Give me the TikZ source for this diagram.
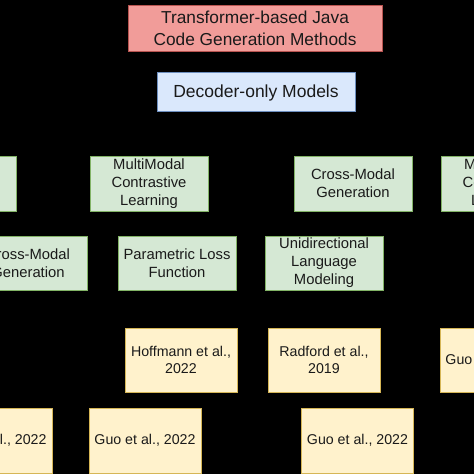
\documentclass[tikz,border=0pt]{standalone}
\usepackage{fontspec}
\setmainfont{Liberation Sans}
\definecolor{titlefill}{HTML}{F19C99}
\definecolor{titledraw}{HTML}{B85450}
\definecolor{bluefill}{HTML}{DAE8FC}
\definecolor{bluedraw}{HTML}{6C8EBF}
\definecolor{greenfill}{HTML}{D5E8D4}
\definecolor{greendraw}{HTML}{82B366}
\definecolor{yellowfill}{HTML}{FFF2CC}
\definecolor{yellowdraw}{HTML}{D6B656}
\definecolor{txt}{HTML}{1A1A1A}
\tikzset{
  box/.style={rectangle, inner sep=0pt, align=center, text=txt, line width=0.4pt},
  titlebox/.style={box, fill=titlefill, draw=titledraw, minimum width=254pt, minimum height=46pt,
    font=\fontsize{17.3}{22}\selectfont},
  decbox/.style={box, fill=bluefill, draw=bluedraw, minimum width=198pt, minimum height=39pt,
    font=\fontsize{17.5}{22}\selectfont, text depth=3pt},
  methbox/.style={box, fill=greenfill, draw=greendraw, minimum width=118pt,
    font=\fontsize{14.8}{18}\selectfont},
  refbox/.style={box, fill=yellowfill, draw=yellowdraw, minimum width=112pt,
    font=\fontsize{14.2}{17.5}\selectfont},
}
\begin{document}
\begin{tikzpicture}[x=1pt,y=-1pt]
\fill[black] (0,0) rectangle (474,474);
\useasboundingbox (0,0) rectangle (474,474);
\clip (0,0) rectangle (474,474);
% top
\node[titlebox] (title) at (255,28) {Transformer-based Java\\Code Generation Methods};
\node[decbox] (dec) at (256,91.5) {\raisebox{-2.5pt}{Decoder-only Models}};
% row 1
\node[methbox, minimum height=55pt] (ra) at (-43,183.5) {};
\node[methbox, minimum height=55pt] (rb) at (149,183.5) {MultiModal\\Contrastive\\Learning};
\node[methbox, minimum height=55pt] (rc) at (353,183.5) {Cross-Modal\\Generation};
\node[methbox, minimum height=55pt] (rd) at (500,183.5) {MultiModal\\Contrastive\\Learning};
% row 2
\node[methbox, minimum height=54pt] (sa) at (28,263) {Cross-Modal\\Generation};
\node[methbox, minimum height=54pt] (sb) at (177,263) {Parametric Loss\\Function};
\node[methbox, minimum height=54pt] (sc) at (324,263) {Unidirectional\\Language\\Modeling};
% row 3
\node[refbox, minimum height=64pt] (ta) at (181,360) {Hoffmann et al.,\\2022};
\node[refbox, minimum height=64pt] (tb) at (324,360) {Radford et al.,\\2019};
\node[refbox, minimum height=64pt] (tc) at (496,360) {Guo et al., 2022};
% row 4
\node[refbox, minimum height=65pt] (ua) at (-4,440.5) {Guo et al., 2022};
\node[refbox, minimum height=65pt] (ub) at (145,440.5) {Guo et al., 2022};
\node[refbox, minimum height=65pt] (uc) at (357.5,440.5) {Guo et al., 2022};
\end{tikzpicture}
\end{document}
